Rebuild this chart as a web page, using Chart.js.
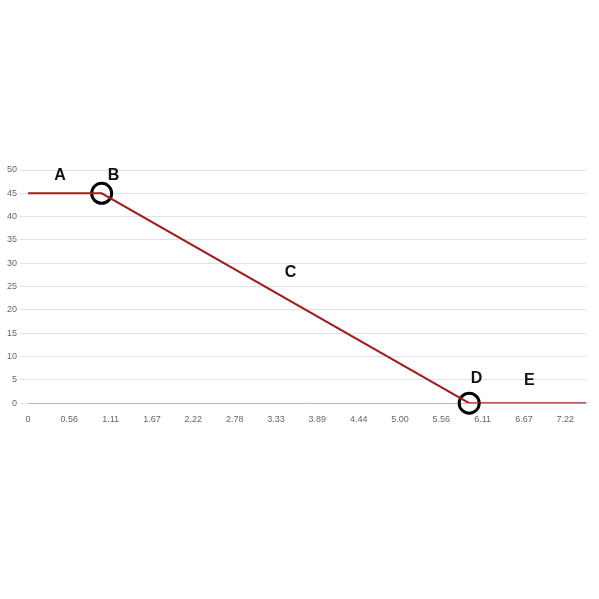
<!DOCTYPE html>
<html>
<head>
<script src="https://cdn.jsdelivr.net/npm/chart.js@4/dist/chart.umd.min.js"></script>
<style>
  html, body { margin: 0; padding: 0; background: #fff; }
  #wrap { width: 599px; height: 599px; }
</style>
</head>
<body>
<div id="wrap"><canvas id="chart"></canvas></div>
<script>
// line data
const xValues = [0, 0.99, 5.93, 7.5]
const yValues = [45, 45, 0, 0]
const xTickLabels = ['0', '0.56', '1.11', '1.67', '2.22', '2.78', '3.33', '3.89', '4.44', '5.00', '5.56', '6.11', '6.67', '7.22']
const xTickValues = [0, 5/9, 10/9, 15/9, 20/9, 25/9, 30/9, 35/9, 40/9, 45/9, 50/9, 55/9, 60/9, 65/9]
// letter annotations
const noteText = ['A', 'B', 'C', 'D', 'E']
const noteX = [0.43, 1.15, 3.53, 6.03, 6.74]
const noteY = [48.7, 48.7, 27.9, 5.2, 4.9]
// circled points
const circleX = [0.99, 5.93]
const circleY = [45, 0]

const notes = {
  id: 'notes',
  afterDatasetsDraw(chart) {
    const ctx = chart.ctx
    const xs = chart.scales.x, ys = chart.scales.y
    ctx.save()
    ctx.fillStyle = '#111'
    ctx.font = 'bold 16px "Liberation Sans", Arial'
    ctx.textAlign = 'center'
    ctx.textBaseline = 'middle'
    for (let i = 0; i < noteText.length; i++) {
      ctx.fillText(noteText[i], xs.getPixelForValue(noteX[i]), ys.getPixelForValue(noteY[i]))
    }
    ctx.restore()
  }
}

new Chart(document.getElementById('chart'), {
  type: 'line',
  data: {
    datasets: [
      {
        data: xValues.map((x, i) => ({ x: x, y: yValues[i] })),
        borderColor: '#a31d1d',
        borderWidth: 2,
        pointRadius: 0,
        tension: 0,
      },
      {
        data: circleX.map((x, i) => ({ x: x, y: circleY[i] })),
        showLine: false,
        clip: false,
        pointRadius: 10,
        pointBorderWidth: 3,
        pointBorderColor: '#000',
        pointBackgroundColor: 'rgba(0,0,0,0)',
      },
    ],
  },
  options: {
    responsive: true,
    maintainAspectRatio: false,
    animation: false,
    layout: { padding: { top: 170, bottom: 171, left: 4, right: 8 } },
    plugins: { legend: { display: false }, tooltip: { enabled: false } },
    scales: {
      x: {
        type: 'linear',
        min: 0,
        max: 7.5,
        afterBuildTicks: (axis) => { axis.ticks = xTickValues.map(v => ({ value: v })) },
        ticks: {
          autoSkip: false,
          maxRotation: 0,
          color: '#666',
          font: { size: 9 },
          callback: (v, i) => xTickLabels[i],
        },
        grid: { display: false },
        border: { color: '#bbb' },
      },
      y: {
        min: 0,
        max: 50,
        ticks: { stepSize: 5, color: '#666', font: { size: 9 } },
        grid: { color: '#e2e2e2' },
        border: { display: false },
      },
    },
  },
  plugins: [notes],
})
</script>
</body>
</html>
